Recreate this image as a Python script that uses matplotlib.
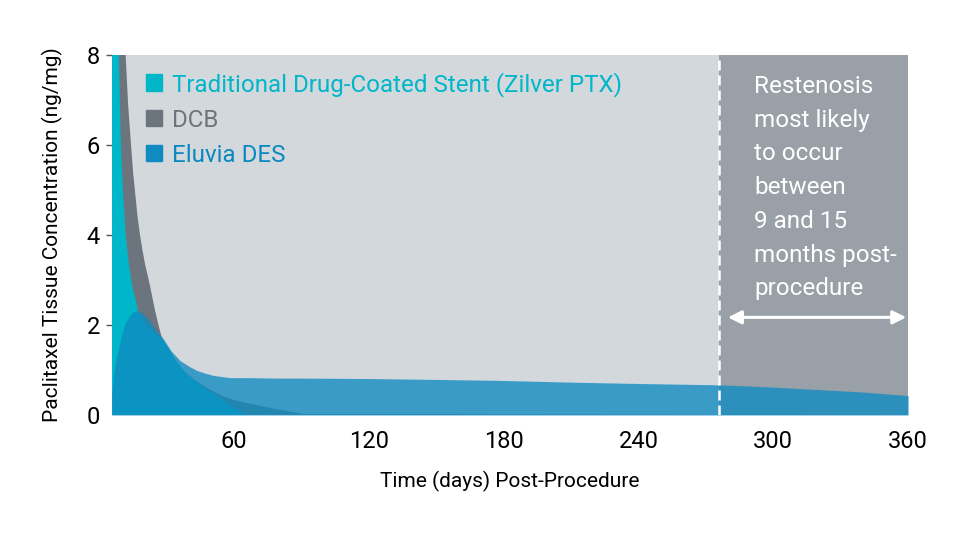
import matplotlib
matplotlib.use("Agg")
import matplotlib.pyplot as plt
from matplotlib.patches import Patch

plt.rcParams['font.family'] = ['Roboto', 'DejaVu Sans']

# days post-procedure and paclitaxel tissue concentration (ng/mg)
zilver_days = [5.5, 7.0, 8.7, 9.1, 9.6, 10.5, 11.7, 13.0, 14.4, 17.2, 20.0, 24.0, 28.5,
               31.5, 34.0, 37.0, 40.0, 43.4, 47.0, 50.8, 54.0, 58.2, 62.0, 65.7, 360.0]
zilver_conc = [30.0, 14.0, 8.0, 7.0, 6.0, 5.0, 4.0, 3.4, 2.92, 2.32, 2.05, 1.85, 1.65,
               1.43, 1.22, 1.02, 0.86, 0.72, 0.6, 0.48, 0.36, 0.22, 0.1, 0.0, 0.0]

dcb_days = [5.5, 8.0, 10.0, 11.7, 12.8, 14.1, 15.0, 16.0, 17.0, 18.1, 19.2, 20.3, 21.5,
            22.6, 23.7, 24.8, 26.3, 27.8, 31.0, 35.0, 39.0, 43.0, 47.0, 51.0, 55.0,
            59.6, 66.0, 73.0, 80.0, 86.0, 91.0, 360.0]
dcb_conc = [40.0, 18.0, 11.0, 8.0, 6.9, 6.0, 5.4, 4.9, 4.4, 4.0, 3.66, 3.36, 3.1,
            2.86, 2.58, 2.32, 2.0, 1.72, 1.42, 1.12, 0.92, 0.76, 0.63, 0.52, 0.42,
            0.34, 0.26, 0.19, 0.12, 0.07, 0.02, 0.0]

eluvia_days = [5.5, 6.2, 7.0, 8.3, 10.0, 11.4, 13.5, 15.0, 16.6, 19.0, 21.6, 25.0,
               28.5, 32.0, 35.9, 40.0, 43.4, 47.0, 50.7, 55.0, 58.2, 65.0, 80.0, 89.5,
               120.0, 150.0, 177.0, 210.0, 240.0, 276.0, 300.0, 318.0, 340.0, 360.0]
eluvia_conc = [0.4, 0.85, 1.15, 1.43, 1.8, 2.03, 2.22, 2.29, 2.32, 2.27, 2.14, 1.9,
               1.69, 1.42, 1.21, 1.08, 0.99, 0.93, 0.88, 0.85, 0.83, 0.83, 0.82, 0.82,
               0.81, 0.79, 0.77, 0.73, 0.70, 0.67, 0.62, 0.57, 0.51, 0.43]

restenosis_start = 276
x_ticks = [60, 120, 180, 240, 300, 360]
y_ticks = [0, 2, 4, 6, 8]
series_names = ['Traditional Drug-Coated Stent (Zilver PTX)', 'DCB', 'Eluvia DES']
note = ['Restenosis', 'most likely', 'to occur', 'between', '9 and 15',
        'months post-', 'procedure']

teal = '#00b6c9'
grey = '#6c757d'
blue = '#0f8bc1'

fig = plt.figure(figsize=(9.59, 5.40), dpi=100)
ax = fig.add_axes([0.1165, 0.2315, 0.8304, 0.6667])
ax.set_facecolor('#d3d8dc')
ax.axvspan(restenosis_start, 360, color='#99a0a7', lw=0, zorder=0.5)

ax.fill_between(dcb_days, dcb_conc, color=grey, lw=0, zorder=1)
ax.fill_between(zilver_days, zilver_conc, color=teal, lw=0, zorder=2)
ax.fill_between(eluvia_days, eluvia_conc, color=blue, alpha=0.78, lw=0, zorder=3)

ax.axvline(restenosis_start, color='white', lw=1.8, linestyle=(0, (4, 2)), zorder=4)

ax.set_xlim(5.5, 360)
ax.set_ylim(0, 8)
ax.set_xticks(x_ticks)
ax.set_yticks(y_ticks)
for s in ax.spines.values():
    s.set_visible(False)
ax.tick_params(axis='x', length=0, labelsize=17, pad=11)
ax.tick_params(axis='y', length=4.5, width=1, color='#555555', labelsize=17, pad=4)
ax.yaxis.get_major_ticks()[0].tick1line.set_visible(False)

ax.set_xlabel('Time (days) Post-Procedure', fontsize=15, labelpad=13)
ax.set_ylabel('Paclitaxel Tissue Concentration (ng/mg)', fontsize=15, labelpad=17)

handles = [Patch(color=c) for c in (teal, grey, blue)]
leg = ax.legend(handles, series_names, loc='upper left', bbox_to_anchor=(0.025, 0.994),
                frameon=False, fontsize=17.4, handlelength=0.66, handleheight=0.66,
                handletextpad=0.4, labelspacing=0.5, borderaxespad=0.2)
for t, c in zip(leg.get_texts(), (teal, grey, '#0a88c0')):
    t.set_color(c)

for i, line in enumerate(note):
    ax.text(291.4, 7.3 - i * 0.75, line, color='white', fontsize=17.5, va='center', ha='left')

ax.annotate('', xy=(359.2, 2.17), xytext=(279.8, 2.17),
            arrowprops=dict(arrowstyle='<|-|>', color='white', lw=2.2,
                            mutation_scale=20, shrinkA=0, shrinkB=0))

fig.savefig('out.png', dpi=100)
